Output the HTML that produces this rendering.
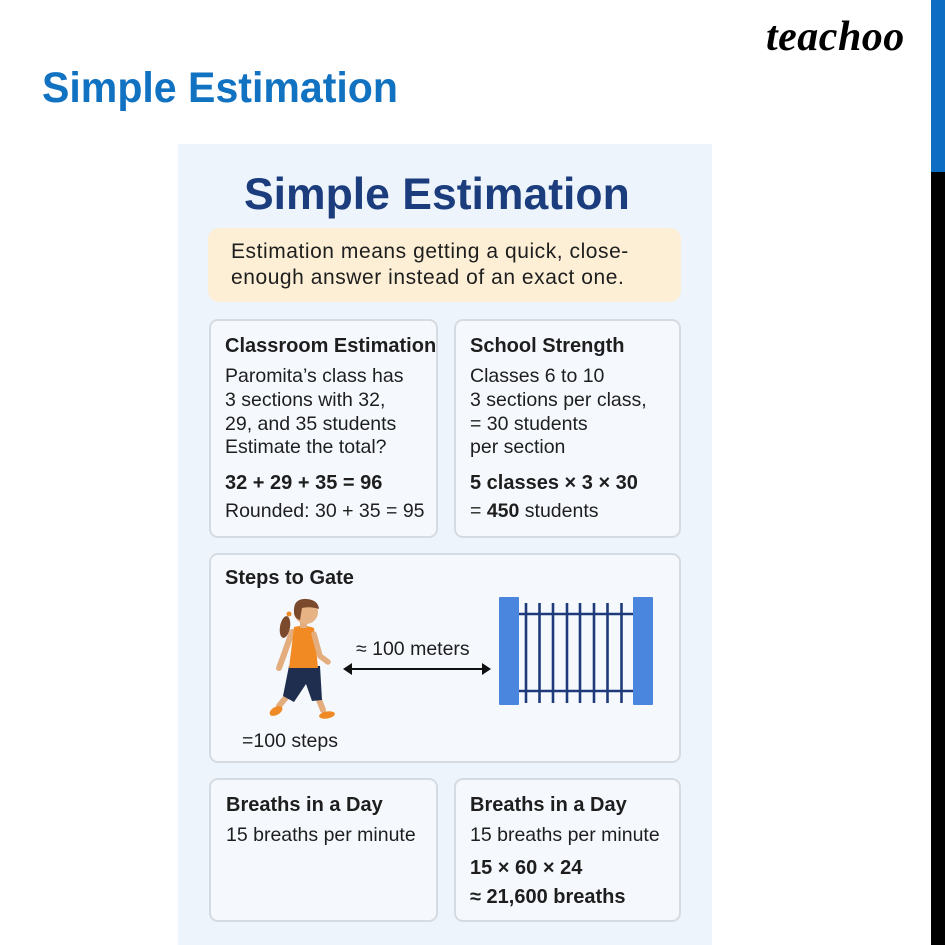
<!DOCTYPE html>
<html>
<head>
<meta charset="utf-8">
<style>
  html,body{margin:0;padding:0;}
  body{width:945px;height:945px;position:relative;overflow:hidden;background:#ffffff;font-family:"Liberation Sans",sans-serif;color:#1e1e1e;}
  .abs{position:absolute;white-space:nowrap;}
  .panel{position:absolute;left:178px;top:144px;width:534px;height:801px;background:#eef4fc;}
  .card{position:absolute;box-sizing:border-box;border:2px solid #d6dbe1;border-radius:9px;background:#f5f9fe;}
  .t{position:absolute;white-space:nowrap;line-height:24px;font-size:19.5px;}
  .b{font-weight:bold;font-size:20px;}
</style>
</head>
<body>
  <!-- right side bar -->
  <div class="abs" style="left:931px;top:0;width:14px;height:172px;background:#0c6dc3;"></div>
  <div class="abs" style="left:931px;top:172px;width:14px;height:773px;background:#000;"></div>

  <!-- teachoo logo -->
  <div class="abs" style="left:766px;top:12px;font-family:'Liberation Serif',serif;font-style:italic;font-weight:bold;font-size:42px;line-height:50px;color:#000;letter-spacing:0.5px;">teachoo</div>

  <!-- outer title -->
  <div class="abs" style="left:42px;top:62px;font-size:43px;line-height:52px;font-weight:bold;color:#1272c2;transform:scaleX(0.955);transform-origin:left top;">Simple Estimation</div>

  <div class="panel"></div>

  <!-- inner title -->
  <div class="abs" style="left:244px;top:168px;font-size:44.5px;line-height:54px;font-weight:bold;color:#1b3d7d;">Simple Estimation</div>

  <!-- beige box -->
  <div class="abs" style="left:208px;top:228px;width:473px;height:74px;background:#fcefd6;border-radius:11px;"></div>
  <div class="t" style="left:231px;top:239px;font-size:21px;line-height:26px;letter-spacing:0.55px;">Estimation means getting a quick, close-</div>
  <div class="t" style="left:231px;top:265px;font-size:21px;line-height:26px;letter-spacing:0.55px;">enough answer instead of an exact one.</div>

  <!-- cards -->
  <div class="card" style="left:209px;top:319px;width:229px;height:219px;"></div>
  <div class="card" style="left:454px;top:319px;width:227px;height:219px;"></div>
  <div class="card" style="left:209px;top:553px;width:472px;height:210px;"></div>
  <div class="card" style="left:209px;top:778px;width:229px;height:144px;"></div>
  <div class="card" style="left:454px;top:778px;width:227px;height:144px;"></div>

  <!-- card 1 -->
  <div class="t b" style="left:225px;top:334px;">Classroom Estimation</div>
  <div class="t" style="left:225px;top:364px;">Paromita’s class has</div>
  <div class="t" style="left:225px;top:388px;">3 sections with 32,</div>
  <div class="t" style="left:225px;top:412px;">29, and 35 students</div>
  <div class="t" style="left:225px;top:435px;">Estimate the total?</div>
  <div class="t b" style="left:225px;top:471px;">32 + 29 + 35 = 96</div>
  <div class="t" style="left:225px;top:499px;">Rounded: 30 + 35 = 95</div>

  <!-- card 2 -->
  <div class="t b" style="left:470px;top:334px;">School Strength</div>
  <div class="t" style="left:470px;top:364px;">Classes 6 to 10</div>
  <div class="t" style="left:470px;top:388px;">3 sections per class,</div>
  <div class="t" style="left:470px;top:412px;">= 30 students</div>
  <div class="t" style="left:470px;top:435px;">per section</div>
  <div class="t b" style="left:470px;top:471px;">5 classes × 3 × 30</div>
  <div class="t" style="left:470px;top:499px;">= <b>450</b> students</div>

  <!-- card 3 -->
  <div class="t b" style="left:225px;top:566px;">Steps to Gate</div>
  <div class="t" style="left:356px;top:637px;">≈ 100 meters</div>
  <div class="t" style="left:242px;top:729px;">=100 steps</div>

  <svg class="abs" style="left:0;top:0;" width="945" height="945" viewBox="0 0 945 945">
    <!-- arrow -->
    <line x1="350" y1="669" x2="484" y2="669" stroke="#111" stroke-width="2"/>
    <polygon points="343,669 352,663 352,675" fill="#111"/>
    <polygon points="491,669 482,663 482,675" fill="#111"/>
    <!-- gate -->
    <rect x="499" y="597" width="20" height="108" rx="1" fill="#4a85de"/>
    <rect x="633" y="597" width="20" height="108" rx="1" fill="#4a85de"/>
    <g stroke="#1e3a7a" stroke-width="2.6">
      <line x1="519" y1="614" x2="633" y2="614"/>
      <line x1="519" y1="691" x2="633" y2="691"/>
      <line x1="526" y1="603" x2="526" y2="703"/>
      <line x1="539.5" y1="603" x2="539.5" y2="703"/>
      <line x1="553" y1="603" x2="553" y2="703"/>
      <line x1="567" y1="603" x2="567" y2="703"/>
      <line x1="580" y1="603" x2="580" y2="703"/>
      <line x1="594" y1="603" x2="594" y2="703"/>
      <line x1="607.5" y1="603" x2="607.5" y2="703"/>
      <line x1="621.5" y1="603" x2="621.5" y2="703"/>
    </g>
    <!-- girl -->
    <path d="M292,632 L282,660 L279,668" stroke="#e3ad7e" stroke-width="6" stroke-linecap="round" fill="none"/>
    <path d="M292,690 L279,706" stroke="#e3ad7e" stroke-width="6" stroke-linecap="round" fill="none"/>
    <path d="M316,692 L323,710" stroke="#e3ad7e" stroke-width="6" stroke-linecap="round" fill="none"/>
    <path d="M289,666 L320,666 L322,700 L312,701 L306,684 L294,702 L283,696 Z" fill="#1f2d4f"/>
    <ellipse cx="276" cy="711" rx="7" ry="4" transform="rotate(-30 276 711)" fill="#f08a25"/>
    <ellipse cx="327" cy="715" rx="8" ry="3.5" transform="rotate(-10 327 715)" fill="#f08a25"/>
    <path d="M294,627 Q304,624 314,628 L318,668 L289,668 Z" fill="#f28a23"/>
    <path d="M314,634 L320,656 L328,662" stroke="#e3ad7e" stroke-width="5.5" stroke-linecap="round" fill="none"/>
    <rect x="300" y="620" width="7" height="8" fill="#e3ad7e"/>
    <ellipse cx="285" cy="627" rx="5" ry="11" transform="rotate(10 285 627)" fill="#7b4a2c"/>
    <circle cx="289" cy="614" r="2.5" fill="#f08a25"/>
    <circle cx="306" cy="612" r="12" fill="#e8b384"/>
    <path d="M294,612 Q293,598 307,599 Q318,600 319,609 Q310,606 302,608 L300,620 Q294,618 294,612 Z" fill="#7b4a2c"/>
  </svg>

  <!-- card 4 -->
  <div class="t b" style="left:226px;top:793px;">Breaths in a Day</div>
  <div class="t" style="left:226px;top:823px;">15 breaths per minute</div>

  <!-- card 5 -->
  <div class="t b" style="left:470px;top:793px;">Breaths in a Day</div>
  <div class="t" style="left:470px;top:823px;">15 breaths per minute</div>
  <div class="t b" style="left:470px;top:856px;">15 × 60 × 24</div>
  <div class="t b" style="left:470px;top:885px;">≈ 21,600 breaths</div>
</body>
</html>
